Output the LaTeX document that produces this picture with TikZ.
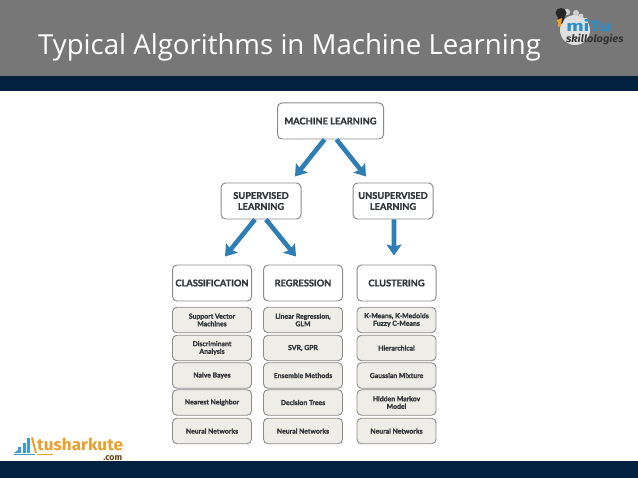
\documentclass[tikz,border=0pt]{standalone}
\usepackage{fontspec}
\setmainfont{Open Sans}
\newfontfamily\boxfont[BoldFeatures={FakeBold=1.6}]{Lato}
\newfontfamily\logofont{Fira Sans}
\usetikzlibrary{arrows.meta}
\definecolor{band}{HTML}{777777}
\definecolor{navy}{HTML}{02203F}
\definecolor{arrowblue}{HTML}{2E7DB5}
\definecolor{edgegrey}{HTML}{8C8C8C}
\definecolor{fillgrey}{HTML}{EFEDE8}
\definecolor{inkgrey}{HTML}{33383C}
\definecolor{logoorange}{HTML}{E9A02C}
\definecolor{logoblue}{HTML}{3E9CCB}
\definecolor{mitublue}{HTML}{2A8FC8}
\tikzset{
  headbox/.style={draw=edgegrey,line width=1pt,rounded corners=4.5pt,fill=white,minimum width=#1,inner sep=0pt,align=center,text=inkgrey,font=\boxfont\bfseries\fontsize{9.3}{11}\selectfont},
  headbox/.default=80bp,
  itembox/.style={draw=edgegrey,line width=0.9pt,rounded corners=4.5pt,fill=fillgrey,minimum width=79bp,inner sep=0pt,align=center,text=inkgrey,font=\boxfont\bfseries\fontsize{6.9}{7.6}\selectfont},
  flow/.style={draw=arrowblue,line width=4.6bp,-{Stealth[length=11bp,width=15bp,inset=2bp]}}
}
\begin{document}
\begin{tikzpicture}[x=1bp,y=-1bp]
\useasboundingbox (0,0) rectangle (638,478);
\fill[white] (0,0) rectangle (638,478);
\fill[band] (0,0) rectangle (638,76);
\fill[navy] (0,76) rectangle (638,91);
\fill[navy] (0,461) rectangle (638,478);
\node[anchor=west,text=white,inner sep=0pt,font=\fontsize{27.7}{32}\selectfont] (title) at (38,47.5) {Typical Algorithms in Machine Learning};

% top levels
\node[headbox=106bp,minimum height=36bp] (ml) at (330.5,121) {MACHINE LEARNING};
\node[headbox=80bp,minimum height=36bp] (sup) at (261,201) {SUPERVISED\\LEARNING};
\node[headbox=80bp,minimum height=36bp] (uns) at (393,201) {UNSUPERVISED\\LEARNING};
\node[headbox=79bp,minimum height=36bp] (cla) at (212,283) {CLASSIFICATION};
\node[headbox=79bp,minimum height=36bp] (reg) at (303,283) {REGRESSION};
\node[headbox=79bp,minimum height=36bp] (clu) at (396.5,283) {CLUSTERING};

% items
\node[itembox,minimum height=25.5bp] (c1) at (212,320) {Support Vector\\Machines};
\node[itembox,minimum height=25.5bp] (c2) at (212,348) {Discriminant\\Analysis};
\node[itembox,minimum height=25.5bp] (c3) at (212,375.5) {Naive Bayes};
\node[itembox,minimum height=25.5bp] (c4) at (212,402.5) {Nearest Neighbor};
\node[itembox,minimum height=25.5bp] (c5) at (212,431) {Neural Networks};
\node[itembox,minimum height=25.5bp] (r1) at (303,320) {Linear Regression,\\GLM};
\node[itembox,minimum height=25.5bp] (r2) at (303,348) {SVR, GPR};
\node[itembox,minimum height=25.5bp] (r3) at (303,375.5) {Ensemble Methods};
\node[itembox,minimum height=25.5bp] (r4) at (303,402.5) {Decision Trees};
\node[itembox,minimum height=25.5bp] (r5) at (303,431) {Neural Networks};
\node[itembox,minimum height=25.5bp] (k1) at (396.5,320) {K-Means, K-Medoids\\Fuzzy C-Means};
\node[itembox,minimum height=25.5bp] (k2) at (396.5,348) {Hierarchical};
\node[itembox,minimum height=25.5bp] (k3) at (396.5,375.5) {Gaussian Mixture};
\node[itembox,minimum height=25.5bp] (k4) at (396.5,402.5) {Hidden Markov\\Model};
\node[itembox,minimum height=25.5bp] (k5) at (396.5,431) {Neural Networks};

% connectors
\draw[flow] ([xshift=-6bp]ml.south) -- ([xshift=34bp,yshift=6bp]sup.north);
\draw[flow] ([xshift=6bp]ml.south) -- ([xshift=-27bp,yshift=6bp]uns.north);
\draw[flow] ([xshift=-6bp]sup.south) -- ([xshift=13bp,yshift=8bp]cla.north);
\draw[flow] ([xshift=5bp]sup.south) -- ([xshift=-7bp,yshift=8bp]reg.north);
\draw[flow] ([xshift=1bp]uns.south) -- ([xshift=-2.5bp,yshift=9bp]clu.north);

% miTu logo
\fill[black!12] (575,30) circle (15);
\fill[black!18] (567,12) circle (3.2) (576,13) circle (3) (581,16) circle (2.4) (586,20) circle (2);
\fill[black!85] (561,13) ellipse (5.5 and 5);
\fill[black!85] (558,17) -- (565,17) -- (562,24) -- (557,24) -- cycle;
\fill[logoorange] (557,20) -- (562,18) -- (561,26) -- (558,27) -- cycle;
\node[inner sep=0pt,text=mitublue,font=\logofont\bfseries\fontsize{15}{16}\selectfont,anchor=west,xscale=1.38] (mitu) at (566,26) {miTu};
\node[inner sep=0pt,text=black!80,font=\logofont\bfseries\itshape\fontsize{10.4}{11}\selectfont,anchor=west,xscale=1.07] (skill) at (566,39.5) {skillologies};

% tusharkute logo
\fill[logoblue] (14,453) -- (18,450) -- (18,453) -- cycle;
\fill[logoblue] (18,447) rectangle (21,453);
\fill[logoblue] (22.5,443) rectangle (25.5,453);
\fill[logoblue] (27,438) rectangle (30,453);
\draw[logoblue,line width=1.5bp] (14,454.6) -- (35,454.6);
\fill[logoorange] (31,438) -- (33,437) -- (37,453) -- (35,453) -- cycle;
\fill[logoorange] (37,453.5) rectangle (53,455);
\node[inner sep=0pt,text=logoorange,font=\logofont\bfseries\fontsize{16.4}{17}\selectfont,anchor=west,xscale=1.05] (tk) at (37,444.5) {tusharkute};
\node[inner sep=0pt,text=black!55!logoorange,font=\logofont\bfseries\fontsize{9}{10}\selectfont,anchor=east] (com) at (122.5,458) {.com};
\end{tikzpicture}
\end{document}
